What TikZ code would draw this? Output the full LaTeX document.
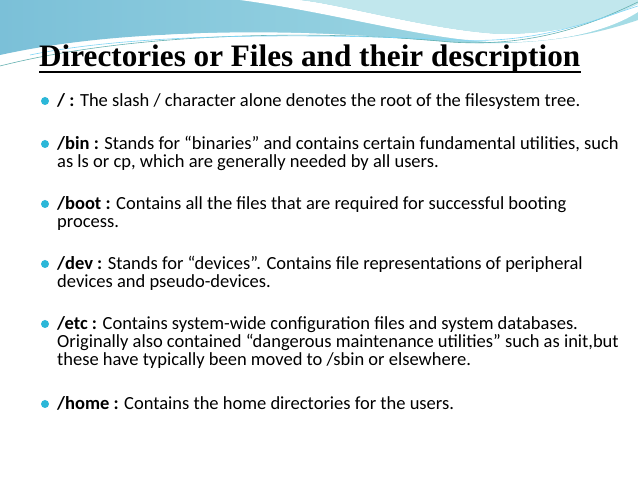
\documentclass[tikz,border=0pt]{standalone}
\usepackage{fontspec}
\setmainfont{Carlito}
\newfontfamily\titlefont{Liberation Serif}
\usetikzlibrary{calc}
\definecolor{bul}{HTML}{2BB7D8}
\definecolor{bandA}{HTML}{7BC0D8}
\definecolor{bandB}{HTML}{A6DDE6}
\tikzset{ln/.style={anchor=base west,inner sep=0pt,font=\fontsize{18.5}{20}\selectfont,text=black},
 dot/.style={circle,fill=bul,minimum size=8pt,inner sep=0pt}}
\begin{document}
\begin{tikzpicture}[x=1pt,y=-1pt]
\useasboundingbox (0,0) rectangle (638,478);
\fill[white] (0,0) rectangle (638,478);
\shade[left color=bandA,right color=bandB] (0,0) -- (638,0) -- (638,20) .. controls (580,40) and (520,46) .. (450,42) .. controls (330,34) and (150,22) .. (0,55) -- cycle;
\fill[white] (240,0) .. controls (330,12) and (420,38) .. (490,42) .. controls (560,44) and (610,30) .. (638,12) -- (638,4) .. controls (600,22) and (560,34) .. (500,34) .. controls (430,30) and (340,4) .. (300,0) -- cycle;
\fill[white] (0,62) .. controls (120,25) and (300,28) .. (440,42) .. controls (320,36) and (150,30) .. (0,70) -- cycle;
\fill[bandB!70!white] (300,0) .. controls (340,4) and (430,30) .. (500,34) .. controls (560,34) and (600,22) .. (638,4) -- (638,0) -- cycle;
\draw[teal!60,line width=0.6pt] (0,66) .. controls (150,28) and (350,32) .. (450,42) .. controls (540,48) and (600,20) .. (638,2);
\draw[cyan!50,line width=0.6pt] (30,55) .. controls (150,30) and (350,35) .. (460,40) .. controls (540,44) and (600,18) .. (638,6);
\node[anchor=base west,inner sep=0pt] (title) at (39,67) {\resizebox{541pt}{!}{\titlefont\bfseries\fontsize{28}{30}\selectfont Directories or Files and their description}};
\draw[line width=1.3pt] (39,72) -- (581,72);
\foreach \y in {107,150,210,270,330,410} \node[dot] at (45,\y-6) {};
\node[ln] (l1) at (57,107) {\textbf{/ :} The slash / character alone denotes the root of the filesystem tree.};
\node[ln] (l2) at (57,150) {\textbf{/bin :} Stands for “binaries” and contains certain fundamental utilities, such};
\node[ln] (l2b) at (57,168) {as ls or cp, which are generally needed by all users.};
\node[ln] (l3) at (57,210) {\textbf{/boot :} Contains all the files that are required for successful booting};
\node[ln] (l3b) at (57,228) {process.};
\node[ln] (l4) at (57,270) {\textbf{/dev :} Stands for “devices”. Contains file representations of peripheral};
\node[ln] (l4b) at (57,288) {devices and pseudo-devices.};
\node[ln] (l5) at (57,330) {\textbf{/etc :} Contains system-wide configuration files and system databases.};
\node[ln] (l5b) at (57,348) {Originally also contained “dangerous maintenance utilities” such as init,but};
\node[ln] (l5c) at (57,366) {these have typically been moved to /sbin or elsewhere.};
\node[ln] (l6) at (57,410) {\textbf{/home :} Contains the home directories for the users.};
\end{tikzpicture}
\end{document}
